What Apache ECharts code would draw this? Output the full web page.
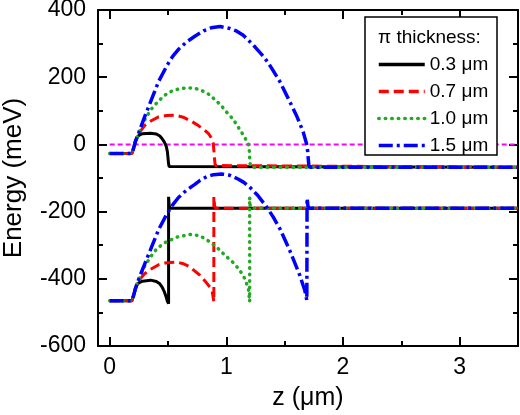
<!DOCTYPE html>
<html><head><meta charset="utf-8">
<script src="https://cdn.jsdelivr.net/npm/echarts@6/dist/echarts.min.js"></script>
<style>html,body{margin:0;padding:0;background:#fff}#c{width:520px;height:415px}</style>
</head><body><div id="c"></div>
<script>
const seriesNames = ['0.3 μm', '0.7 μm', '1.0 μm', '1.5 μm'];
const legendTitle = 'π thickness:';
const xMajorTicks = [0, 1, 2, 3];
const xMinorTicks = [0.5, 1.5, 2.5];
const fermiLevel = [[0, 0], [3.5, 0]];

const upper03 = [[0,-27],[0.19,-27],[0.205,-12],[0.22,8],[0.235,20],[0.25,27],[0.28,32],[0.35,33],[0.40,31],[0.43,25],[0.45,17],[0.47,6],[0.485,-6],[0.495,-22],[0.50,-40],[0.505,-58],[0.51,-66],[0.52,-68],[3.5,-68]];
const lower03 = [[0,-465],[0.19,-465],[0.205,-450],[0.22,-430],[0.235,-418],[0.25,-412],[0.28,-407],[0.35,-404],[0.40,-408],[0.43,-415],[0.45,-425],[0.47,-440],[0.485,-455],[0.495,-467],[0.505,-474],[0.505,-156],[0.51,-182],[0.52,-190],[3.5,-190]];

const upper07 = [[0,-27],[0.19,-27],[0.205,-12],[0.22,8],[0.235,22],[0.25,33],[0.305,58],[0.36,71],[0.42,82],[0.49,86],[0.56,87],[0.63,81],[0.70,69],[0.76,56],[0.818,41],[0.85,31],[0.875,17],[0.888,2],[0.895,-25],[0.90,-48],[0.905,-63],[0.915,-68],[3.5,-68]];
const lower07 = [[0,-465],[0.19,-465],[0.205,-450],[0.22,-430],[0.235,-416],[0.25,-405],[0.30,-385],[0.35,-372],[0.42,-358],[0.49,-352],[0.576,-350],[0.63,-355],[0.69,-365],[0.775,-390],[0.83,-412],[0.86,-425],[0.88,-440],[0.893,-468],[0.893,-156],[0.90,-184],[0.91,-190],[3.5,-190]];

const upper10 = [[0,-27],[0.19,-27],[0.205,-12],[0.22,8],[0.235,22],[0.25,35],[0.277,58],[0.32,85],[0.362,107],[0.42,130],[0.476,147],[0.53,158],[0.59,165],[0.65,168],[0.718,168],[0.78,162],[0.846,150],[0.89,137],[0.95,118],[1.0,97],[1.05,78],[1.09,58],[1.145,28],[1.175,10],[1.19,2],[1.197,-17],[1.20,-40],[1.205,-60],[1.215,-68],[3.5,-68]];
const lower10 = [[0,-465],[0.19,-465],[0.205,-450],[0.22,-430],[0.235,-414],[0.25,-403],[0.29,-368],[0.35,-335],[0.405,-310],[0.476,-292],[0.576,-276],[0.69,-268],[0.775,-272],[0.85,-288],[0.918,-306],[1.0,-334],[1.06,-352],[1.10,-368],[1.145,-390],[1.17,-410],[1.19,-432],[1.20,-468],[1.20,-158],[1.205,-184],[1.215,-190],[3.5,-190]];

const upper15 = [[0,-27],[0.19,-27],[0.205,-12],[0.22,8],[0.235,22],[0.25,35],[0.305,87],[0.362,137],[0.419,187],[0.49,234],[0.54,262],[0.59,283],[0.66,305],[0.73,322],[0.804,338],[0.87,347],[0.946,351],[1.03,345],[1.09,337],[1.145,325],[1.23,296],[1.33,257],[1.388,227],[1.459,187],[1.53,137],[1.60,87],[1.658,38],[1.687,3],[1.697,-20],[1.702,-42],[1.707,-62],[1.717,-68],[3.5,-68]];
const lower15 = [[0,-465],[0.19,-465],[0.205,-450],[0.22,-430],[0.235,-414],[0.25,-400],[0.305,-352],[0.362,-303],[0.419,-254],[0.49,-207],[0.54,-180],[0.59,-158],[0.66,-136],[0.73,-119],[0.775,-107],[0.83,-96],[0.89,-90],[0.96,-88],[1.03,-92],[1.10,-103],[1.15,-113],[1.20,-127],[1.27,-152],[1.345,-186],[1.40,-215],[1.459,-251],[1.544,-316],[1.63,-390],[1.673,-435],[1.69,-464],[1.692,-468],[1.692,-160],[1.70,-184],[1.71,-190],[3.5,-190]];

const FONT = 'Liberation Sans, Arial, Helvetica, sans-serif';
const styles = [
  {color:'#000000', width:3, type:'solid'},
  {color:'#ff0000', width:3, type:[10,5]},
  {color:'#22aa22', width:3.5, type:[0.5,6], cap:'round'},
  {color:'#0000ff', width:3.5, type:[14,4,3,4]}
];
const bands = [[upper03, lower03], [upper07, lower07], [upper10, lower10], [upper15, lower15]];

const series = [{
  type:'line', name:'Fermi', data:fermiLevel, symbol:'none', silent:true,
  lineStyle:{color:'#ff00ff', width:2, type:[5,3]}, z:1
}];
bands.forEach((pair, i) => {
  pair.forEach(d => {
    series.push({
      type:'line', name:seriesNames[i], data:d, symbol:'none', showSymbol:false,
      lineStyle:Object.assign({}, styles[i]), itemStyle:{color:styles[i].color}, z:2+i
    });
  });
});

const axisLineStyle = {color:'#000', width:2};
function xAxisDef(pos, ticks, len, withLabels) {
  const a = {
    type:'value', min:-0.1, max:3.5, position:pos,
    axisLine:{show: len > 6, onZero:false, lineStyle:axisLineStyle},
    axisTick:{show:true, inside:true, length:len, customValues:ticks, lineStyle:axisLineStyle},
    axisLabel:{show:withLabels, customValues:ticks, fontSize:23, color:'#000', margin:10, fontFamily:FONT},
    splitLine:{show:false}
  };
  if (withLabels) {
    a.name = 'z (μm)'; a.nameLocation = 'middle'; a.nameGap = 40;
    a.nameTextStyle = {fontSize:25, color:'#000', fontFamily:FONT};
  }
  return a;
}
function yAxisDef(pos, withLabels) {
  const a = {
    type:'value', min:-600, max:400, interval:200, position:pos,
    axisLine:{show:true, onZero:false, lineStyle:axisLineStyle},
    axisTick:{show:true, inside:true, length:9, lineStyle:axisLineStyle},
    minorTick:{show:true, splitNumber:2, length:5, lineStyle:axisLineStyle},
    axisLabel:{show:withLabels, fontSize:23, color:'#000', margin:12, fontFamily:FONT},
    splitLine:{show:false}, minorSplitLine:{show:false}
  };
  if (withLabels) {
    a.name = 'Energy (meV)'; a.nameLocation = 'middle'; a.nameGap = 71; a.nameRotate = 90;
    a.nameTextStyle = {fontSize:26, color:'#000', fontFamily:FONT};
  }
  return a;
}

const chart = echarts.init(document.getElementById('c'), null, {renderer:'canvas'});
chart.setOption({
  animation:false,
  backgroundColor:'#fff',
  grid:{left:98, right:2, top:10, bottom:69, containLabel:false, outerBoundsMode:'none'},
  xAxis:[
    xAxisDef('bottom', xMajorTicks, 9, true),
    xAxisDef('bottom', xMinorTicks, 5, false),
    xAxisDef('top', xMajorTicks, 9, false),
    xAxisDef('top', xMinorTicks, 5, false)
  ],
  yAxis:[yAxisDef('left', true), yAxisDef('right', false)],
  legend:{
    data:seriesNames, orient:'vertical', left:377, top:55, itemWidth:46, itemHeight:14, itemGap:8,
    padding:0, selectedMode:false, z:6,
    itemStyle:{opacity:0},
    lineStyle:{width:3.5},
    textStyle:{fontSize:19, color:'#000', fontFamily:FONT}
  },
  graphic:[
    {type:'rect', z:5, shape:{x:365, y:17, width:132, height:138}, style:{fill:'#fff', stroke:'#000', lineWidth:1.5}},
    {type:'text', z:7, x:378, y:38, style:{text:legendTitle, font:'19px ' + FONT, fill:'#000', verticalAlign:'middle'}}
  ],
  series:series
});
</script></body></html>
